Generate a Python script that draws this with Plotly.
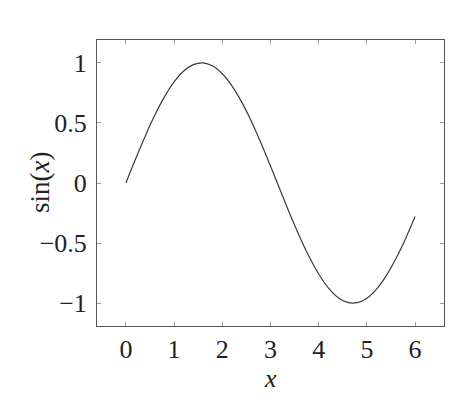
import plotly.graph_objects as go

x_vals = [0.0, 0.2, 0.4, 0.6, 0.8, 1.0, 1.2, 1.4, 1.6, 1.8, 2.0, 2.2, 2.4, 2.6, 2.8, 3.0,
          3.2, 3.4, 3.6, 3.8, 4.0, 4.2, 4.4, 4.6, 4.8, 5.0, 5.2, 5.4, 5.6, 5.8, 6.0]
y_vals = [0.0, 0.199, 0.389, 0.565, 0.717, 0.841, 0.932, 0.985, 1.0, 0.974, 0.909, 0.808,
          0.675, 0.516, 0.335, 0.141, -0.058, -0.256, -0.443, -0.612, -0.757, -0.872,
          -0.952, -0.994, -0.996, -0.959, -0.883, -0.773, -0.631, -0.465, -0.279]
x_ticks = [0, 1, 2, 3, 4, 5, 6]
x_ticktext = ["0", "1", "2", "3", "4", "5", "6"]
y_ticks = [-1, -0.5, 0, 0.5, 1]
y_ticktext = ["\u22121", "\u22120.5", "0", "0.5", "1"]
x_title = "<i>x</i>"
y_title = "sin(<i>x</i>)"

FONT = "Liberation Serif"

fig = go.Figure()
fig.add_trace(go.Scatter(x=x_vals, y=y_vals, mode="lines",
                         line=dict(color="#3a3a3a", width=1.2, shape="spline"),
                         showlegend=False, hoverinfo="skip"))

axis_common = dict(showgrid=False, zeroline=False, showline=True, linecolor="#555",
                   linewidth=1, mirror="ticks", ticks="inside", ticklen=4,
                   tickcolor="#999", tickwidth=1, automargin=False,
                   tickfont=dict(family=FONT, size=26, color="#222"))

fig.update_layout(
    width=474, height=409,
    margin=dict(l=97, r=30, t=40, b=83),
    paper_bgcolor="white", plot_bgcolor="white",
    font=dict(family=FONT, color="#222"),
    xaxis=dict(range=[-0.6, 6.6], tickvals=x_ticks, ticktext=x_ticktext,
               **axis_common),
    yaxis=dict(range=[-1.19, 1.19], tickvals=y_ticks, ticktext=y_ticktext,
               ticklabelstandoff=4, **axis_common),
    annotations=[
        dict(text=x_title, xref="paper", yref="paper", x=0.5, y=-0.125,
             xanchor="center", yanchor="top", showarrow=False,
             font=dict(family=FONT, size=26, color="#222")),
        dict(text=y_title, xref="paper", yref="paper", x=-0.164, y=0.5,
             xanchor="center", yanchor="middle", showarrow=False, textangle=-90,
             font=dict(family=FONT, size=27, color="#222")),
    ],
)

fig.write_html("out.html", config={"displayModeBar": False},
               post_script="document.body.style.margin='0';")
